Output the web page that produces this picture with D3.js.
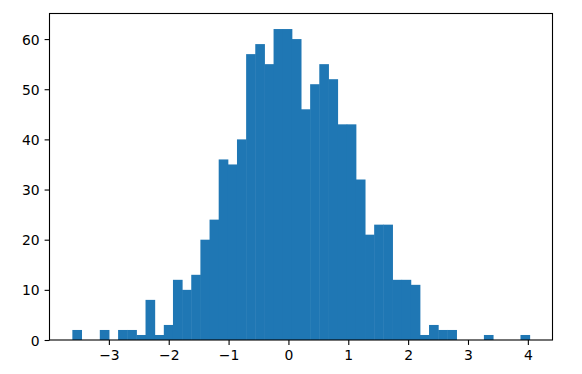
<!DOCTYPE html>
<html>
<head>
<meta charset="utf-8">
<script src="https://cdn.jsdelivr.net/npm/d3@7"></script>
<style>
  html, body { margin: 0; padding: 0; background: #fff; }
  svg text { font-family: "DejaVu Sans", sans-serif; font-size: 13.9px; fill: #000; }
</style>
</head>
<body>
<svg id="chart" width="582" height="374"></svg>
<script>
// histogram counts, 50 equal bins
const counts = [2,0,0,2,0,2,2,1,8,1,3,12,10,13,20,24,36,35,40,57,59,55,62,62,60,
                46,51,55,52,43,43,32,21,23,23,12,12,11,1,3,2,2,0,0,0,1,0,0,0,1];
const binMin = -3.61;
const binMax = 4.03;
const xTicks = [-3, -2, -1, 0, 1, 2, 3, 4];
const yTicks = [0, 10, 20, 30, 40, 50, 60];

const svg = d3.select('#chart');
// área del eje (px)
const plotL = 49.5, plotR = 552.5, plotT = 13.5, plotB = 340;

// bins
const step = (binMax - binMin) / counts.length;
const bins = counts.map((c, i) => ({ x0: binMin + i * step, x1: binMin + (i + 1) * step, n: c }));

// márgenes tipo matplotlib: 5% en x, 5% arriba en y
const pad = (binMax - binMin) * 0.05;
const x = d3.scaleLinear().domain([binMin - pad, binMax + pad]).range([plotL, plotR]);
const y = d3.scaleLinear().domain([0, d3.max(counts) * 1.05]).range([plotB, plotT]);

// barras: se solapan medio píxel para que no se vean juntas claras
svg.append('g')
  .selectAll('rect')
  .data(bins.filter(b => b.n > 0))
  .join('rect')
    .attr('x', b => x(b.x0))
    .attr('width', b => x(b.x1) - x(b.x0) + 0.5)
    .attr('y', b => y(b.n))
    .attr('height', b => y(0) - y(b.n))
    .attr('fill', '#1f77b4');

// ejes
const fmt = d => d < 0 ? '\u2212' + Math.abs(d) : String(d);

const xAxis = svg.append('g')
  .attr('transform', `translate(0,${plotB})`)
  .call(d3.axisBottom(x).tickValues(xTicks).tickSize(4.9).tickPadding(4.9).tickFormat(fmt));

const yAxis = svg.append('g')
  .attr('transform', `translate(${plotL},0)`)
  .call(d3.axisLeft(y).tickValues(yTicks).tickSize(4.9).tickPadding(4.9).tickFormat(fmt));

[xAxis, yAxis].forEach(ax => {
  ax.select('.domain').remove();
  ax.selectAll('.tick line').attr('stroke', '#000').attr('stroke-width', 1.1);
  ax.selectAll('text').attr('font-family', null).attr('font-size', null).attr('fill', '#000');
});
xAxis.selectAll('text').attr('dy', '0.76em');
yAxis.selectAll('text').attr('dy', '0.36em');

// marco
svg.append('rect')
  .attr('x', plotL).attr('y', plotT)
  .attr('width', plotR - plotL).attr('height', plotB - plotT)
  .attr('fill', 'none')
  .attr('stroke', '#000')
  .attr('stroke-width', 1.1);
</script>
</body>
</html>
